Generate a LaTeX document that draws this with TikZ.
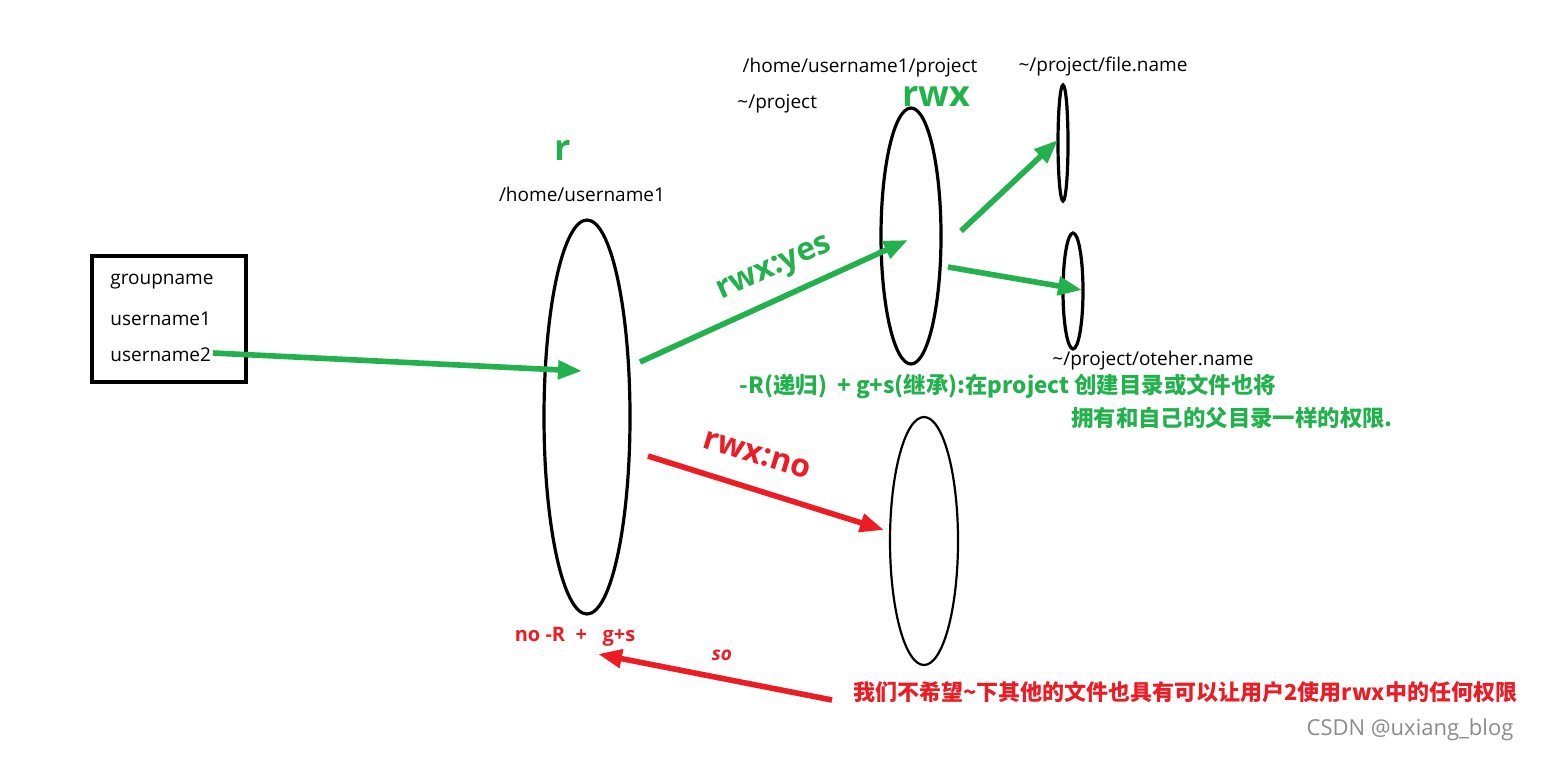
\documentclass[tikz,border=0pt]{standalone}
\usepackage{fontspec}
\setmainfont{Open Sans}
\newfontfamily\cjk{Noto Sans CJK SC}
\usetikzlibrary{arrows.meta}
\definecolor{gr}{RGB}{34,177,76}
\definecolor{rd}{RGB}{237,28,36}
\tikzset{
 lbl/.style={font=\fontsize{9.5}{11}\selectfont,inner sep=0},
 ell/.style={draw,line width=1.6pt},
 garr/.style={draw=gr,line width=2.8pt,-{Triangle[length=12pt,width=9pt]}},
 rarr/.style={draw=rd,line width=2.8pt,-{Triangle[length=12pt,width=9pt]}},
}
\begin{document}
\begin{tikzpicture}[x=0.5pt,y=-0.5pt]
\useasboundingbox[fill=white] (0,0) rectangle (1545,756);
\draw[line width=1.6pt] (92,256) rectangle (246,382);
\node[lbl,anchor=west] (g) at (110,282) {groupname};
\node[lbl,anchor=west] (u1) at (110,319) {username1};
\node[lbl,anchor=west] (u2) at (110,355) {username2};
\coordinate (u2e) at (213,353);

\draw[ell] (587,417) ellipse [x radius=43,y radius=197];
\node[font=\bfseries\fontsize{18}{20}\selectfont,text=gr] (r) at (563,150) {r};
\node[lbl] (h1) at (582,194) {/home/username1};

\draw[ell] (911,236) ellipse [x radius=30,y radius=128];
\node[font=\bfseries\fontsize{18}{20}\selectfont,text=gr] (rwx) at (936,96) {rwx};
\node[lbl] (hp) at (860,68) {/home/username1/project};
\node[lbl,anchor=west] (tp) at (737,104) {\textasciitilde/project};

\draw[ell] (1063,143) ellipse [x radius=5,y radius=58];
\node[lbl] (fn) at (1103,67) {\textasciitilde/project/file.name};
\draw[ell] (1073,291) ellipse [x radius=10,y radius=58];
\node[lbl] (on) at (1153,361) {\textasciitilde/project/oteher.name};
\draw[line width=1.1pt] (924,541) ellipse [x radius=34,y radius=124];

\coordinate (a1) at (582,371);
\draw[garr] (u2e) -- (a1);
\coordinate (b0) at (640,362); \coordinate (b1) at (908,240);
\draw[garr] (b0) -- (b1);
\node[font=\bfseries\fontsize{16}{18}\selectfont,text=gr,rotate=24,inner sep=0] (ry) at (775,270) {rwx:yes};
\coordinate (c0) at (961,231); \coordinate (c1) at (1058,140);
\draw[garr] (c0) -- (c1);
\coordinate (d0) at (948,267); \coordinate (d1) at (1082,290);
\draw[garr] (d0) -- (d1);
\node[text=gr,font=\cjk\bfseries\fontsize{11.2}{13}\selectfont,inner sep=0] (t1) at (1008,386) {-R(递归) \ + g+s(继承):在project 创建目录或文件也将};
\node[text=gr,font=\cjk\bfseries\fontsize{11.2}{13}\selectfont,inner sep=0] (t2) at (1232,418) {拥有和自己的父目录一样的权限.};

\coordinate (e0) at (648,456); \coordinate (e1) at (884,530);
\draw[rarr] (e0) -- (e1);
\node[font=\bfseries\fontsize{16}{18}\selectfont,text=rd,rotate=-17,inner sep=0] (rn) at (757,455) {rwx:no};
\node[text=rd,font=\bfseries\fontsize{10}{11}\selectfont,inner sep=0] (nr) at (575,637) {no -R \ + \ \ g+s};
\node[text=rd,font=\bfseries\itshape\fontsize{9.5}{11}\selectfont,inner sep=0] (so) at (722,655) {so};
\coordinate (f0) at (832,700); \coordinate (f1) at (598,654);
\draw[rarr] (f0) -- (f1);
\node[text=rd,font=\cjk\bfseries\fontsize{11}{13}\selectfont,inner sep=0] (t3) at (1185,692) {我们不希望\textasciitilde 下其他的文件也具有可以让用户2使用rwx中的任何权限};
\node[text=black!45,font=\fontsize{11}{12}\selectfont,inner sep=0] (cs) at (1410,730) {CSDN @uxiang\_blog};
\end{tikzpicture}
\end{document}
